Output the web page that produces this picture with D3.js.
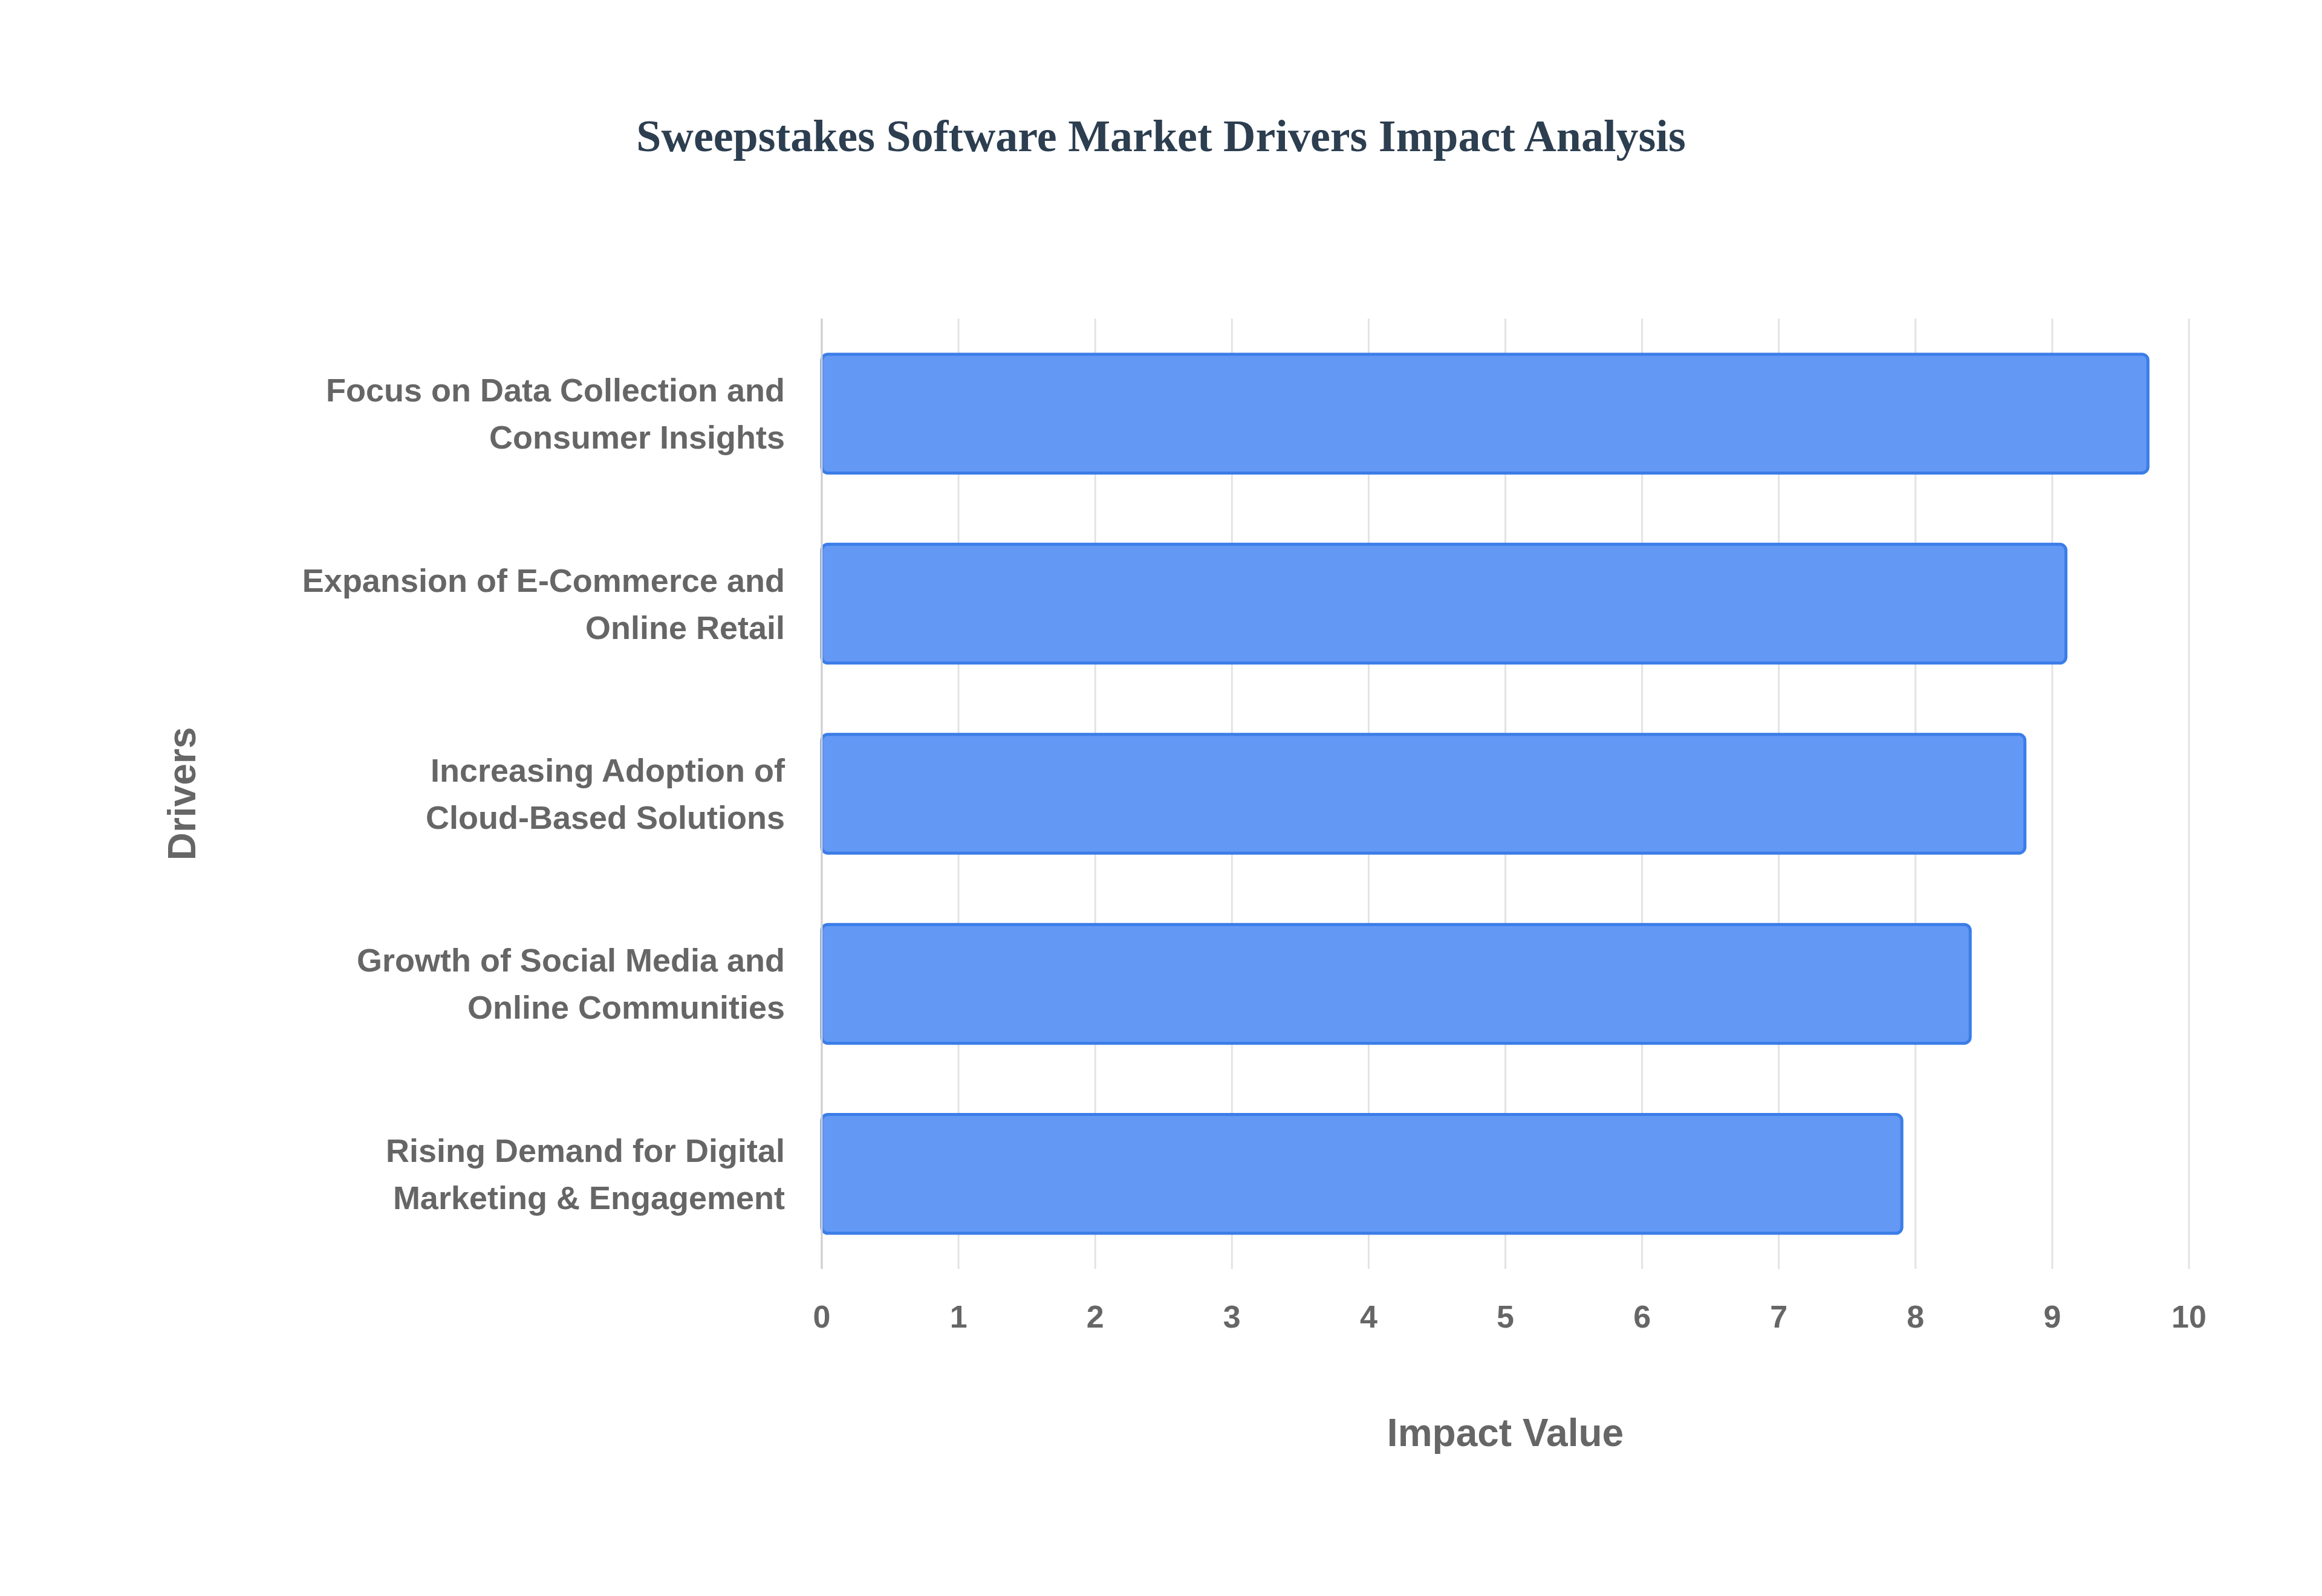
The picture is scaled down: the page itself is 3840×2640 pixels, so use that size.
<!DOCTYPE html>
<html><head><meta charset="utf-8">
<script src="https://cdn.jsdelivr.net/npm/d3@7"></script>
<style>body{margin:0;background:#fff}</style></head>
<body><svg id="c" width="3840" height="2640"></svg>
<script>
const categories = [
  ["Focus on Data Collection and","Consumer Insights"],
  ["Expansion of E-Commerce and","Online Retail"],
  ["Increasing Adoption of","Cloud-Based Solutions"],
  ["Growth of Social Media and","Online Communities"],
  ["Rising Demand for Digital","Marketing & Engagement"]
];
const values = [9.7, 9.1, 8.8, 8.4, 7.9];
const ticks = [0,1,2,3,4,5,6,7,8,9,10];

const svg = d3.select("#c");
const L = 1359, R = 3620, T = 527, B = 2099;
const x = d3.scaleLinear().domain([0,10]).range([L,R]);
const y = d3.scaleBand().domain(d3.range(categories.length)).range([T,B]).paddingInner(0.375).paddingOuter(0.1875);

svg.append("text").attr("x",1920).attr("y",250).attr("text-anchor","middle")
  .attr("font-family","Liberation Serif, serif").attr("font-weight","bold").attr("font-size",74)
  .attr("fill","#2c3e50").text("Sweepstakes Software Market Drivers Impact Analysis");

const g = svg.append("g");
g.selectAll(".grid").data(ticks).join("line")
  .attr("x1",d=>x(d)).attr("x2",d=>x(d)).attr("y1",T).attr("y2",B)
  .attr("stroke","#e3e3e3").attr("stroke-width",3);

g.selectAll(".bar").data(values).join("rect")
  .attr("x",x(0)).attr("y",(d,i)=>y(i)).attr("width",d=>x(d)-x(0)).attr("height",y.bandwidth())
  .attr("rx",10).attr("fill","#6399f5").attr("stroke","#3b7de8").attr("stroke-width",5);

g.append("line").attr("x1",L).attr("x2",L).attr("y1",T).attr("y2",B).attr("stroke","#d0d0d0").attr("stroke-width",3);

const font = "Liberation Sans, Arial, sans-serif";
g.selectAll(".tick").data(ticks).join("text")
  .attr("x",d=>x(d)).attr("y",B+97).attr("text-anchor","middle")
  .attr("font-family",font).attr("font-weight","bold").attr("font-size",52).attr("fill","#666").text(d=>d);

categories.forEach((c,i)=>{
  const t = g.append("text").attr("text-anchor","end").attr("font-family",font).attr("font-weight","bold")
    .attr("font-size",54).attr("fill","#666");
  const cy = y(i)+y.bandwidth()/2;
  c.forEach((s,k)=>t.append("tspan").attr("x",1298).attr("y",cy-20+k*78).text(s));
});

svg.append("text").attr("x",(L+R)/2).attr("y",2392).attr("text-anchor","middle")
  .attr("font-family",font).attr("font-weight","bold").attr("font-size",64).attr("fill","#666").text("Impact Value");
svg.append("text").attr("transform",`translate(323,${(T+B)/2}) rotate(-90)`).attr("text-anchor","middle")
  .attr("font-family",font).attr("font-weight","bold").attr("font-size",64).attr("fill","#666").text("Drivers");
</script></body></html>
